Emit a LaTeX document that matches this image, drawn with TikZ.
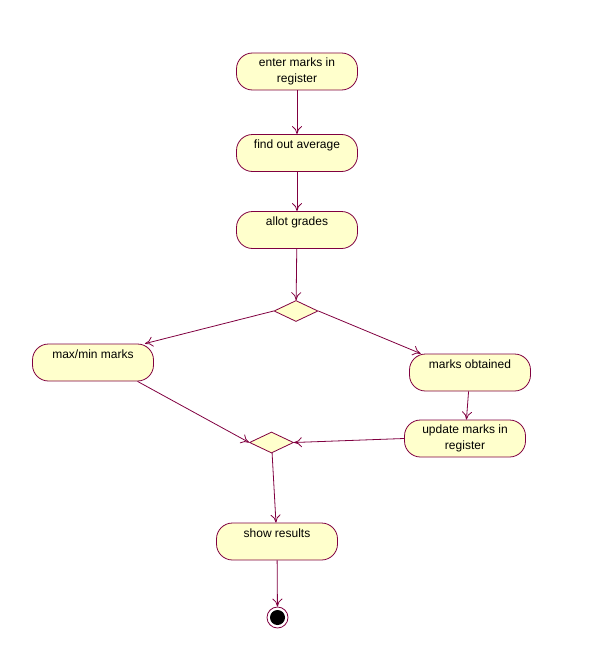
\documentclass[tikz,border=0pt]{standalone}
\usepackage{fontspec}
\setmainfont{Liberation Sans}
\usetikzlibrary{shapes.geometric,arrows.meta}
\definecolor{actline}{RGB}{128,0,64}
\definecolor{actfill}{RGB}{255,255,204}

\begin{document}
\begin{tikzpicture}
[x=1pt,y=-1pt,
  actDecorate/.style={shape=rectangle,rounded corners=16pt,draw=actline,fill=actfill,
    line width=0.8pt,minimum width=121pt,minimum height=37pt,inner ysep=3pt,align=center},%
  oneline/.style={text height=11pt,text depth=20pt},%
  twoline/.style={},%
  decisionDecorate/.style={shape=diamond,draw=actline,fill=actfill,line width=0.8pt,
    minimum width=44pt,minimum height=21pt,inner sep=0pt},%
  endDecorate/.style={shape=circle,draw=actline,line width=0.8pt,minimum size=21pt,inner sep=0pt,
    path picture={\fill[black] (path picture bounding box.center) circle (7.5pt);}},%
  arrowDecorate/.style={->,>={To[length=8pt,width=10pt]},draw=actline,line width=0.8pt}]
\fontsize{12}{16}\selectfont
\useasboundingbox (0,0) rectangle (610,669);
%% activities
\foreach \nodename/\x/\y/\kind/\txt in {enter/297/71.5/twoline/{enter marks in\\register},
  average/297/153/oneline/{find out average}, allot/297/230/oneline/{allot grades},
  maxmin/93/362.5/oneline/{max/min marks}, obtained/470/372.5/oneline/{marks obtained},
  update/465/438.5/twoline/{update marks in\\register}, show/277/541.5/oneline/{show results}}
{
  \node (\nodename) at (\x,\y) [actDecorate,\kind] {\txt};
}
%% decisions and end
\node (split) at (296,311) [decisionDecorate] {};
\node (merge) at (271.5,442.5) [decisionDecorate] {};
\node (final) at (277.5,617.5) [endDecorate] {};
%% transitions
\path
\foreach \startnode/\endnode in {enter/average, average/allot, allot/split, split.west/maxmin.20,
  split.east/obtained.159, obtained/update, maxmin.-23/merge.west, update.west/merge.east,
  merge/show, show/final}
{
  (\startnode) edge[arrowDecorate] (\endnode)
};
\end{tikzpicture}
\end{document}
